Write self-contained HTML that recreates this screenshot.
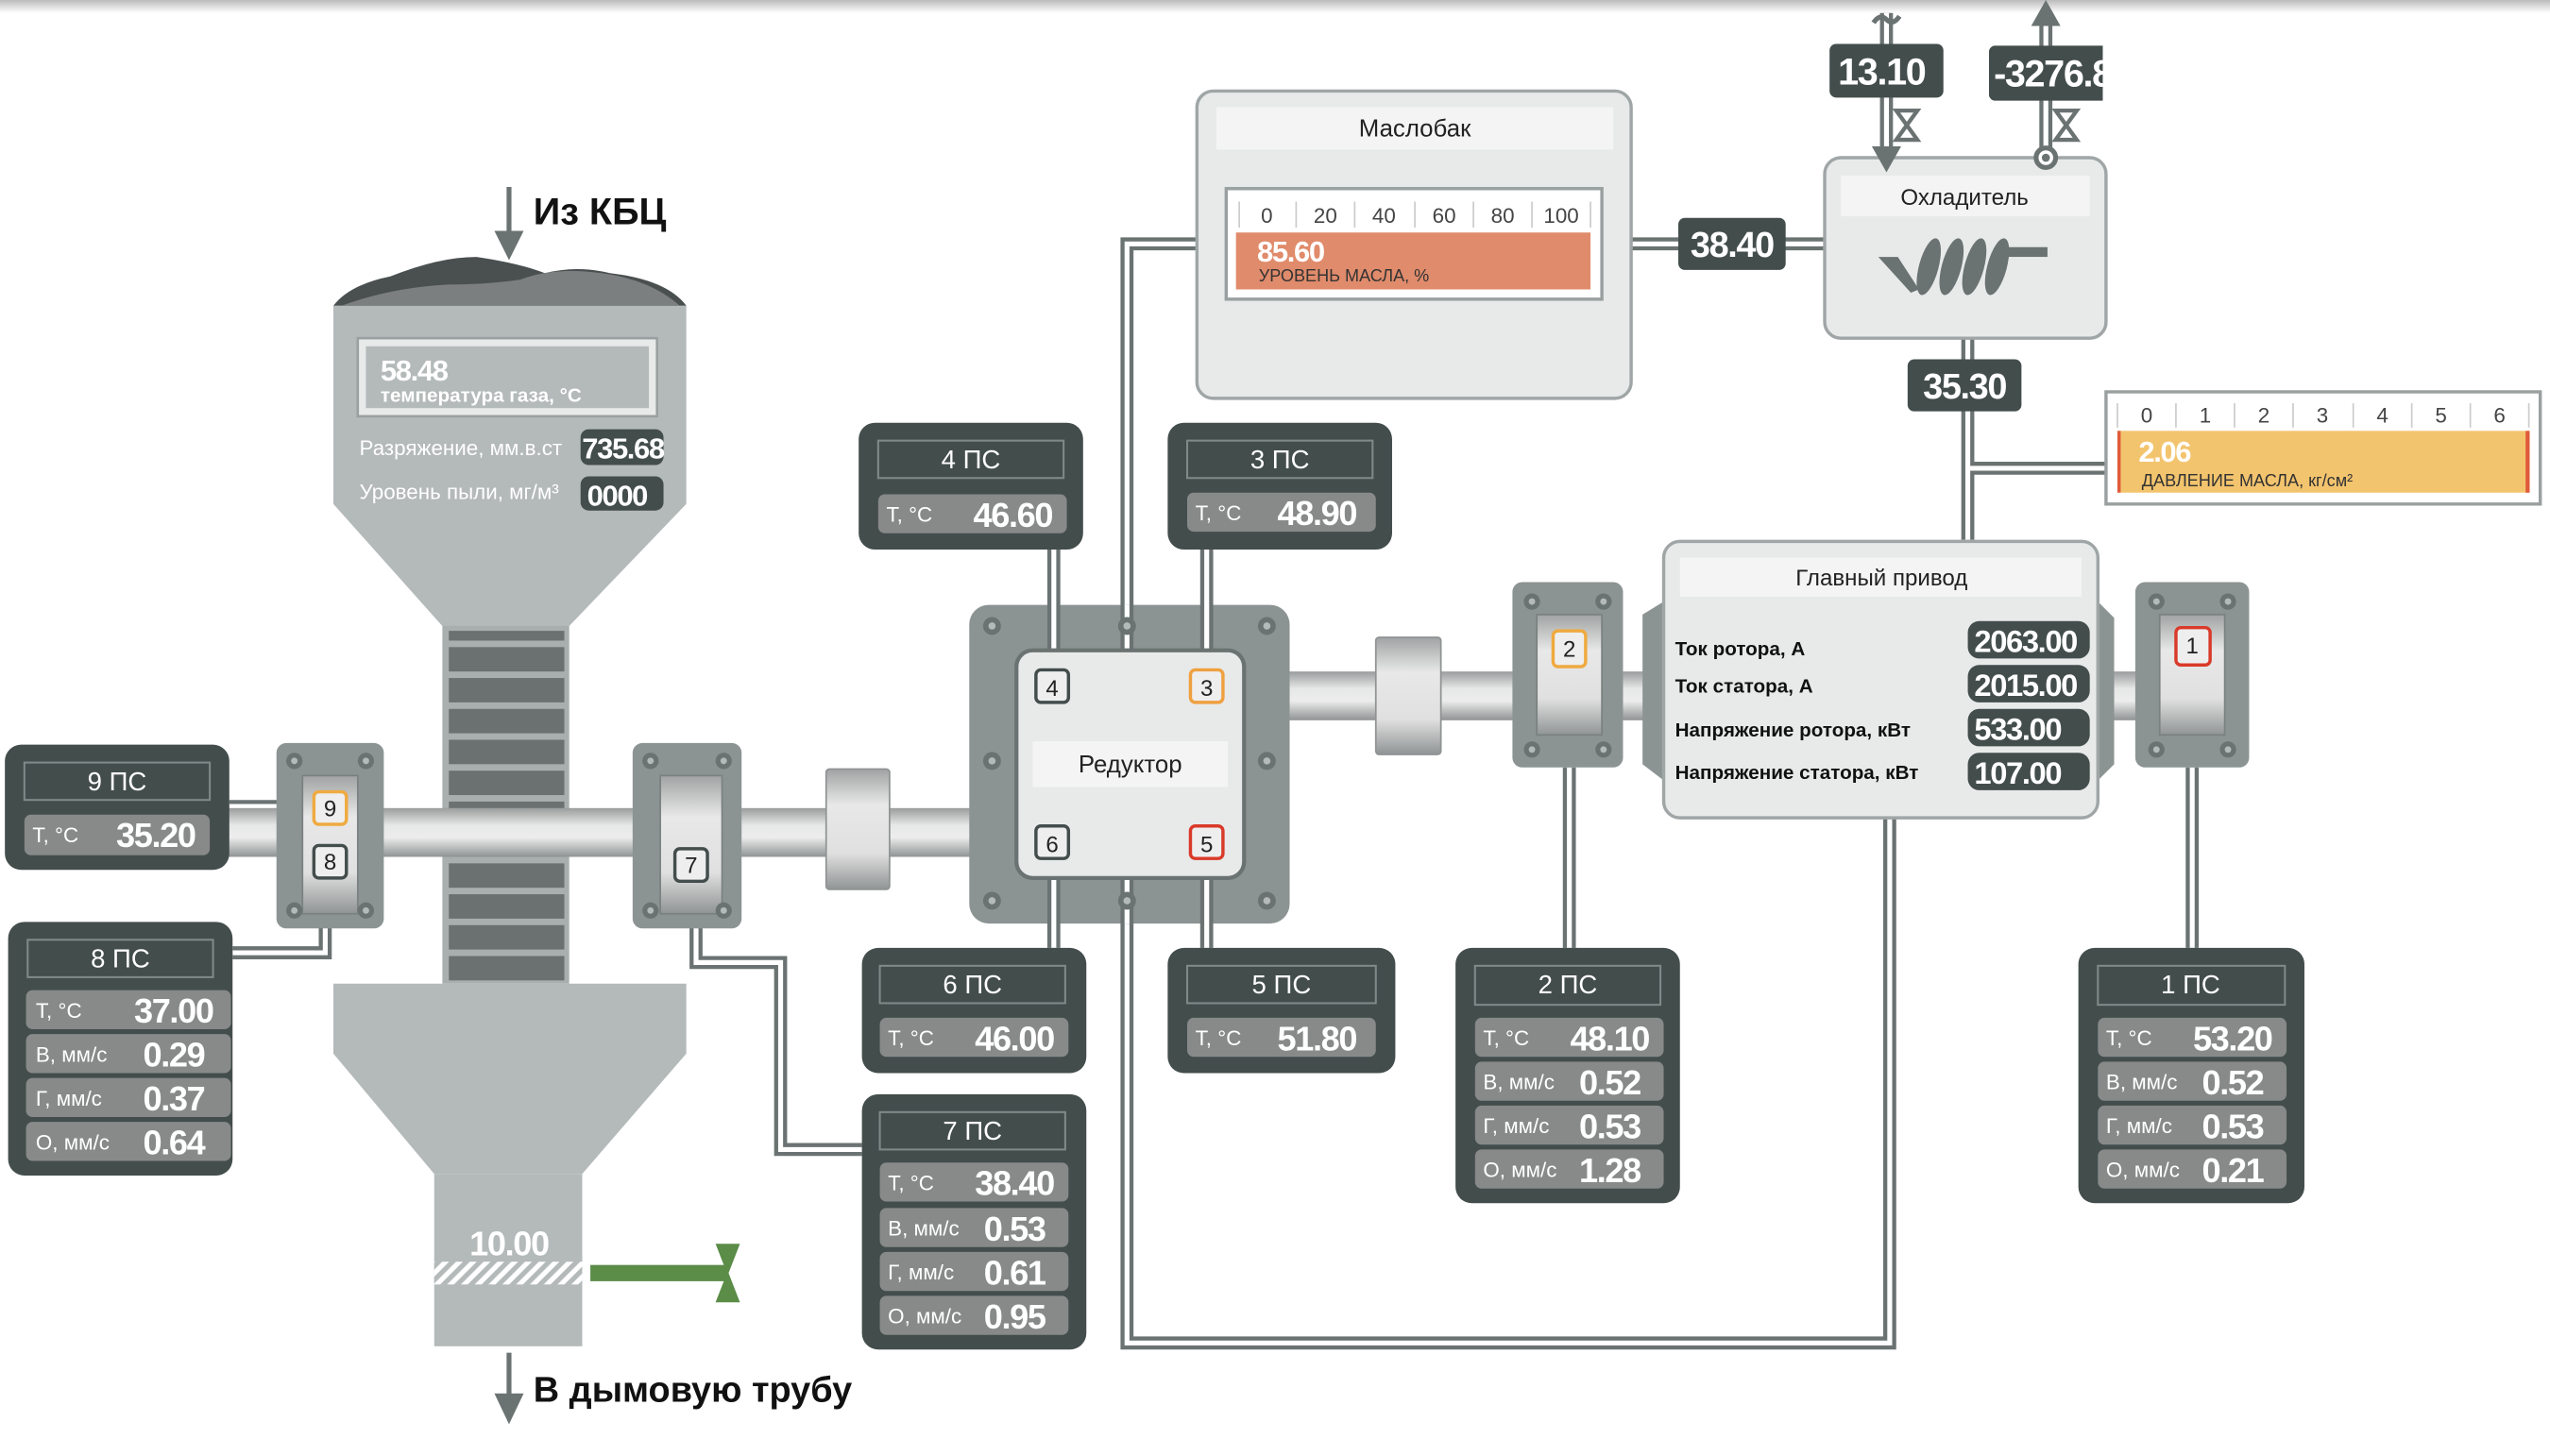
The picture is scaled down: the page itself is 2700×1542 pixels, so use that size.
<!DOCTYPE html>
<html><head><meta charset="utf-8"><style>
html,body{margin:0;padding:0;background:#fff;}
svg{display:block;}
text{font-family:"Liberation Sans",sans-serif;}
.n{font-family:"Liberation Sans Narrow","Liberation Sans",sans-serif;font-weight:bold;fill:#fff;letter-spacing:-0.8px;}
.l{fill:#fff;font-size:13px;}
.t{fill:#fff;font-size:16px;text-anchor:middle;}
.po{fill:none;stroke:#6b7372;stroke-width:8;}
.pi{fill:none;stroke:#fff;stroke-width:3;}
.bd{font-size:14px;text-anchor:middle;fill:#222;}
</style></head><body>
<svg width="2700" height="1542" viewBox="0 0 1568 895.5" preserveAspectRatio="none" xmlns="http://www.w3.org/2000/svg">
<defs>
<linearGradient id="sh" x1="0" y1="0" x2="0" y2="1"><stop offset="0" stop-color="#9a9d9d"/><stop offset="0.35" stop-color="#e6e7e7"/><stop offset="0.6" stop-color="#ededed"/><stop offset="1" stop-color="#8f9393"/></linearGradient>
<linearGradient id="bi" x1="0" y1="0" x2="0" y2="1"><stop offset="0" stop-color="#a0a3a3"/><stop offset="0.3" stop-color="#e8e8e8"/><stop offset="0.7" stop-color="#e0e0e0"/><stop offset="1" stop-color="#909494"/></linearGradient>
<linearGradient id="top" x1="0" y1="0" x2="0" y2="1"><stop offset="0" stop-color="#bbb"/><stop offset="1" stop-color="#fff"/></linearGradient>
<pattern id="hat" width="6" height="6" patternUnits="userSpaceOnUse" patternTransform="rotate(45)"><rect width="6" height="6" fill="#fff"/><rect width="3" height="6" fill="#b4b9b9"/></pattern>
<path id="p1" d="M141 496 H186"/>
<path id="p2" d="M200 562 V586 H143"/>
<path id="p3" d="M428 562 V592 H480 V707 H530"/>
<path id="p4" d="M648 338 V400 M742 338 V400 M648 540 V583 M742 540 V583"/>
<path id="p5" d="M736 150 H693 V826 H1162 V503"/>
<path id="p6" d="M1003 150 H1122"/>
<path id="p7" d="M1210 208 V332 M1210 288 H1295"/>
<path id="p8" d="M1160 8 V92 M1258 10 V92"/>
<path id="p9" d="M965 472 V583 M1348 472 V583"/>
</defs>
<rect x="0" y="0" width="1568" height="8" fill="url(#top)"/>

<g class="po"><use href="#p1"/><use href="#p2"/><use href="#p3"/><use href="#p5"/><use href="#p6"/><use href="#p7"/><use href="#p8"/><use href="#p9"/></g>
<g class="pi"><use href="#p1"/><use href="#p2"/><use href="#p3"/><use href="#p5"/><use href="#p6"/><use href="#p7"/><use href="#p8"/><use href="#p9"/></g>

<!-- Из КБЦ -->
<line x1="313" y1="115" x2="313" y2="148" stroke="#6b7372" stroke-width="3"/>
<polygon points="304,142 322,142 313,160" fill="#6b7372"/>
<text x="328" y="138" font-size="23" font-weight="bold" fill="#111">Из КБЦ</text>

<!-- hopper -->
<polygon points="205,188 205,310 272,385 350,385 422,310 422,188" fill="#b4b9b9"/>
<path d="M205,188 Q215,175 240,170 Q270,158 293,158 Q320,162 335,168 Q355,163 375,168 Q410,172 422,188 Z" fill="#4a4f4f"/>
<path d="M210,188 Q240,177 275,175 Q300,175 320,172 Q340,164 370,168 Q400,172 418,188 Z" fill="#7b7f7f"/>
<rect x="220" y="208" width="184" height="48" fill="#e8eaea" stroke="#9aa0a0" stroke-width="1.5"/>
<rect x="225" y="213" width="174" height="38" fill="#b4b9b9"/>
<text x="234" y="234" class="n" font-size="18">58.48</text>
<text x="234" y="247" font-size="12" font-weight="bold" fill="#fff">температура газа, °C</text>
<text x="221" y="280" class="l" font-size="12.5">Разряжение, мм.в.ст</text>
<rect x="357" y="264" width="51" height="22" rx="5" fill="#434d4c"/>
<text x="383" y="282" class="n" font-size="18" text-anchor="middle">735.68</text>
<text x="221" y="307" class="l" font-size="12.5">Уровень пыли, мг/м³</text>
<rect x="357" y="293" width="51" height="21" rx="5" fill="#434d4c"/>
<text x="361" y="311" class="n" font-size="18">0000</text>

<!-- column -->
<rect x="272" y="385" width="78" height="220" fill="#a9aeae"/>
<g fill="#6a7170">
<rect x="276" y="388" width="71" height="6"/>
<rect x="276" y="398" width="71" height="15"/><rect x="276" y="417" width="71" height="15"/><rect x="276" y="436" width="71" height="15"/><rect x="276" y="455" width="71" height="15"/><rect x="276" y="474" width="71" height="15"/><rect x="276" y="493" width="71" height="15"/><rect x="276" y="512" width="71" height="15"/><rect x="276" y="531" width="71" height="15"/><rect x="276" y="550" width="71" height="15"/><rect x="276" y="569" width="71" height="15"/><rect x="276" y="588" width="71" height="15"/>
</g>
<polygon points="205,605 422,605 422,648 358,722 267,722 205,648" fill="#b4b9b9"/>
<rect x="267" y="722" width="91" height="106" fill="#b4b9b9"/>
<rect x="267" y="776" width="91" height="14" fill="url(#hat)"/>
<text x="313" y="772" class="n" font-size="21" text-anchor="middle">10.00</text>
<rect x="363" y="778" width="85" height="10" fill="#5b8c48"/>
<polygon points="440,765 455,765 448,783 455,801 440,801 447,783" fill="#5b8c48"/>
<line x1="313" y1="832" x2="313" y2="862" stroke="#6b7372" stroke-width="3"/>
<polygon points="304,857 322,857 313,876" fill="#6b7372"/>
<text x="328" y="862" font-size="22" font-weight="bold" fill="#111">В дымовую трубу</text>

<!-- shafts -->
<rect x="140" y="497" width="460" height="30" fill="url(#sh)"/>
<rect x="508" y="473" width="39" height="74" rx="2" fill="url(#bi)" stroke="#8f9393"/>
<rect x="790" y="413" width="240" height="30" fill="url(#sh)"/>
<rect x="846" y="392" width="40" height="72" rx="2" fill="url(#bi)" stroke="#8f9393"/>
<rect x="1290" y="413" width="40" height="30" fill="url(#sh)"/>

<!-- bearing 9/8 -->
<rect x="170" y="457" width="66" height="114" rx="6" fill="#8c9493"/>
<rect x="186" y="477" width="34" height="85" fill="url(#bi)" stroke="#7a8180"/>
<g fill="#6b7372"><circle cx="181" cy="468" r="5"/><circle cx="225" cy="468" r="5"/><circle cx="181" cy="560" r="5"/><circle cx="225" cy="560" r="5"/></g>
<g fill="#b4b9b9"><circle cx="181" cy="468" r="2"/><circle cx="225" cy="468" r="2"/><circle cx="181" cy="560" r="2"/><circle cx="225" cy="560" r="2"/></g>
<rect x="193" y="487" width="20" height="20" rx="3" fill="#eee" stroke="#efaa40" stroke-width="2"/><text x="203" y="502" class="bd">9</text>
<rect x="193" y="520" width="20" height="20" rx="3" fill="#eee" stroke="#434d4c" stroke-width="2"/><text x="203" y="535" class="bd">8</text>

<!-- bearing 7 -->
<rect x="389" y="457" width="67" height="114" rx="6" fill="#8c9493"/>
<rect x="406" y="477" width="38" height="85" fill="url(#bi)" stroke="#7a8180"/>
<g fill="#6b7372"><circle cx="400" cy="468" r="5"/><circle cx="445" cy="468" r="5"/><circle cx="400" cy="560" r="5"/><circle cx="445" cy="560" r="5"/></g>
<g fill="#b4b9b9"><circle cx="400" cy="468" r="2"/><circle cx="445" cy="468" r="2"/><circle cx="400" cy="560" r="2"/><circle cx="445" cy="560" r="2"/></g>
<rect x="415" y="522" width="20" height="20" rx="3" fill="#eee" stroke="#434d4c" stroke-width="2"/><text x="425" y="537" class="bd">7</text>

<!-- reducer -->
<rect x="596" y="372" width="197" height="196" rx="12" fill="#8c9493"/>
<g class="po"><use href="#p4"/><path d="M693 372 V400 M693 540 V568"/></g>
<g class="pi"><use href="#p4"/><path d="M693 372 V400 M693 540 V568"/></g>
<rect x="625" y="400" width="140" height="140" rx="10" fill="#e8eaea" stroke="#6b7372" stroke-width="2.5"/>
<rect x="635" y="456" width="120" height="28" fill="#f4f4f4"/>
<text x="695" y="475" font-size="15" text-anchor="middle" fill="#222">Редуктор</text>
<g fill="#6b7372"><circle cx="610" cy="385" r="5.5"/><circle cx="693" cy="385" r="5.5"/><circle cx="779" cy="385" r="5.5"/><circle cx="610" cy="468" r="5.5"/><circle cx="779" cy="468" r="5.5"/><circle cx="610" cy="554" r="5.5"/><circle cx="693" cy="554" r="5.5"/><circle cx="779" cy="554" r="5.5"/></g>
<g fill="#b4b9b9"><circle cx="610" cy="385" r="2.2"/><circle cx="693" cy="385" r="2.2"/><circle cx="779" cy="385" r="2.2"/><circle cx="610" cy="468" r="2.2"/><circle cx="779" cy="468" r="2.2"/><circle cx="610" cy="554" r="2.2"/><circle cx="693" cy="554" r="2.2"/><circle cx="779" cy="554" r="2.2"/></g>
<rect x="637" y="412" width="20" height="20" rx="3" fill="#eee" stroke="#434d4c" stroke-width="2"/><text x="647" y="428" class="bd">4</text>
<rect x="732" y="412" width="20" height="20" rx="3" fill="#eee" stroke="#efa040" stroke-width="2"/><text x="742" y="428" class="bd">3</text>
<rect x="637" y="508" width="20" height="20" rx="3" fill="#eee" stroke="#434d4c" stroke-width="2"/><text x="647" y="524" class="bd">6</text>
<rect x="732" y="508" width="20" height="20" rx="3" fill="#eee" stroke="#d93a2a" stroke-width="2"/><text x="742" y="524" class="bd">5</text>

<!-- bearing 2 -->
<rect x="930" y="358" width="68" height="114" rx="6" fill="#8c9493"/>
<rect x="945" y="378" width="40" height="74" fill="url(#bi)" stroke="#7a8180"/>
<g fill="#6b7372"><circle cx="942" cy="370" r="5"/><circle cx="986" cy="370" r="5"/><circle cx="942" cy="461" r="5"/><circle cx="986" cy="461" r="5"/></g>
<g fill="#b4b9b9"><circle cx="942" cy="370" r="2"/><circle cx="986" cy="370" r="2"/><circle cx="942" cy="461" r="2"/><circle cx="986" cy="461" r="2"/></g>
<rect x="955" y="388" width="20" height="22" rx="3" fill="#eee" stroke="#efaa40" stroke-width="2"/><text x="965" y="404" class="bd">2</text>

<!-- bearing 1 -->
<rect x="1313" y="358" width="70" height="114" rx="6" fill="#8c9493"/>
<rect x="1328" y="378" width="40" height="74" fill="url(#bi)" stroke="#7a8180"/>
<g fill="#6b7372"><circle cx="1326" cy="370" r="5"/><circle cx="1370" cy="370" r="5"/><circle cx="1326" cy="461" r="5"/><circle cx="1370" cy="461" r="5"/></g>
<g fill="#b4b9b9"><circle cx="1326" cy="370" r="2"/><circle cx="1370" cy="370" r="2"/><circle cx="1326" cy="461" r="2"/><circle cx="1370" cy="461" r="2"/></g>
<rect x="1338" y="386" width="21" height="23" rx="3" fill="#eee" stroke="#d93a2a" stroke-width="2"/><text x="1348" y="402" class="bd">1</text>

<!-- main drive -->
<polygon points="1010,378 1023,370 1023,480 1010,470" fill="#8c9493"/>
<polygon points="1290,370 1300,380 1300,470 1290,480" fill="#8c9493"/>
<rect x="1023" y="333" width="267" height="170" rx="10" fill="#e8eaea" stroke="#a0a6a6" stroke-width="2"/>
<rect x="1033" y="343" width="247" height="24" fill="#f4f4f4"/>
<text x="1157" y="360" font-size="14" text-anchor="middle" fill="#222">Главный привод</text>
<g font-size="12" font-weight="bold" fill="#111">
<text x="1030" y="403">Ток ротора, А</text>
<text x="1030" y="426">Ток статора, А</text>
<text x="1030" y="453">Напряжение ротора, кВт</text>
<text x="1030" y="479">Напряжение статора, кВт</text>
</g>
<g fill="#434d4c"><rect x="1210" y="382" width="75" height="23" rx="7"/><rect x="1210" y="409" width="75" height="23" rx="7"/><rect x="1210" y="436" width="75" height="23" rx="7"/><rect x="1210" y="463" width="75" height="23" rx="7"/></g>
<g class="n" font-size="19"><text x="1214" y="401">2063.00</text><text x="1214" y="428">2015.00</text><text x="1214" y="455">533.00</text><text x="1214" y="482">107.00</text></g>

<!-- Маслобак -->
<rect x="736" y="56" width="267" height="189" rx="10" fill="#e8eaea" stroke="#a0a6a6" stroke-width="2"/>
<rect x="748" y="66" width="244" height="26" fill="#f4f4f4"/>
<text x="870" y="84" font-size="15" text-anchor="middle" fill="#222">Маслобак</text>
<rect x="754" y="116" width="231" height="68" fill="#fff" stroke="#9aa0a0" stroke-width="2"/>
<g font-size="13" fill="#444" text-anchor="middle"><text x="779" y="137">0</text><text x="815" y="137">20</text><text x="851" y="137">40</text><text x="888" y="137">60</text><text x="924" y="137">80</text><text x="960" y="137">100</text></g>
<g stroke="#ccc"><line x1="762" y1="124" x2="762" y2="140"/><line x1="797" y1="124" x2="797" y2="140"/><line x1="833" y1="124" x2="833" y2="140"/><line x1="870" y1="124" x2="870" y2="140"/><line x1="906" y1="124" x2="906" y2="140"/><line x1="942" y1="124" x2="942" y2="140"/><line x1="978" y1="124" x2="978" y2="140"/></g>
<rect x="760" y="143" width="218" height="35" fill="#e08b6b"/>
<text x="773" y="161" class="n" font-size="18">85.60</text>
<text x="774" y="173" font-size="10.5" fill="#333">УРОВЕНЬ МАСЛА, %</text>

<rect x="1032" y="134" width="66" height="32" rx="4" fill="#434d4c"/>
<text x="1065" y="158" class="n" font-size="22" text-anchor="middle">38.40</text>

<!-- cooler -->
<rect x="1122" y="97" width="173" height="111" rx="10" fill="#e8eaea" stroke="#a0a6a6" stroke-width="2"/>
<rect x="1132" y="108" width="153" height="25" fill="#f4f4f4"/>
<text x="1208" y="126" font-size="14" text-anchor="middle" fill="#222">Охладитель</text>
<g fill="#6b7372">
<polygon points="1155,158 1167,158 1180,178 1175,180"/>
<rect x="1235" y="152" width="24" height="6"/>
<ellipse cx="1186" cy="164" rx="6" ry="18" transform="rotate(15 1186 164)"/>
<ellipse cx="1200" cy="164" rx="6" ry="18" transform="rotate(15 1200 164)"/>
<ellipse cx="1214" cy="164" rx="6" ry="18" transform="rotate(15 1214 164)"/>
<ellipse cx="1228" cy="164" rx="6" ry="18" transform="rotate(15 1228 164)"/>
</g>
<path d="M1152 14 Q1156 8 1160 12 Q1164 16 1168 10" stroke="#6b7372" stroke-width="3" fill="none"/>
<polygon points="1151,90 1169,90 1160,106" fill="#6b7372"/>
<polygon points="1249,16 1267,16 1258,0" fill="#6b7372"/>
<circle cx="1258" cy="97" r="6" fill="#fff" stroke="#6b7372" stroke-width="3"/>
<circle cx="1258" cy="97" r="2.5" fill="#6b7372"/>
<g fill="none" stroke="#6b7372" stroke-width="2.5"><path d="M1166 68 H1179 L1166 86 H1179 Z"/><path d="M1264 68 H1277 L1264 86 H1277 Z"/></g>
<rect x="1125" y="27" width="70" height="33" rx="4" fill="#434d4c"/>
<text x="1157" y="52" class="n" font-size="23" text-anchor="middle">13.10</text>
<svg x="1223" y="28" width="70" height="34" overflow="hidden"><rect x="0" y="0" width="75" height="34" rx="4" fill="#434d4c"/><text x="3" y="25" class="n" font-size="23">-3276.8</text></svg>

<rect x="1173" y="221" width="70" height="32" rx="4" fill="#434d4c"/>
<text x="1208" y="245" class="n" font-size="22" text-anchor="middle">35.30</text>

<!-- pressure gauge -->
<rect x="1295" y="241" width="267" height="69" fill="#fff" stroke="#9aa0a0" stroke-width="2"/>
<g font-size="13" fill="#444" text-anchor="middle"><text x="1320" y="260">0</text><text x="1356" y="260">1</text><text x="1392" y="260">2</text><text x="1428" y="260">3</text><text x="1465" y="260">4</text><text x="1501" y="260">5</text><text x="1537" y="260">6</text></g>
<g stroke="#ccc"><line x1="1302" y1="248" x2="1302" y2="263"/><line x1="1338" y1="248" x2="1338" y2="263"/><line x1="1374" y1="248" x2="1374" y2="263"/><line x1="1410" y1="248" x2="1410" y2="263"/><line x1="1447" y1="248" x2="1447" y2="263"/><line x1="1483" y1="248" x2="1483" y2="263"/><line x1="1519" y1="248" x2="1519" y2="263"/><line x1="1555" y1="248" x2="1555" y2="263"/></g>
<rect x="1302" y="265" width="253" height="38" fill="#f3c46e"/>
<rect x="1302" y="265" width="2" height="38" fill="#e05a3a"/><rect x="1553" y="265" width="2.5" height="38" fill="#e05a3a"/>
<text x="1315" y="284" class="n" font-size="18">2.06</text>
<text x="1317" y="299" font-size="10.5" fill="#333">ДАВЛЕНИЕ МАСЛА, кг/см²</text>

<!-- panels -->
<g>
<rect x="3" y="458" width="138" height="77" rx="10" fill="#434d4c"/>
<rect x="15" y="469" width="114" height="23" fill="none" stroke="#7f8988" stroke-width="1.2"/><text x="72" y="486" class="t">9 ПС</text>
<rect x="15" y="501" width="114" height="25" rx="4" fill="#878a89"/><text x="20" y="518" class="l">T, °C</text><text x="120" y="521" class="n" font-size="21" text-anchor="end">35.20</text>

<rect x="5" y="567" width="138" height="156" rx="10" fill="#434d4c"/>
<rect x="17" y="578" width="114" height="23" fill="none" stroke="#7f8988" stroke-width="1.2"/><text x="74" y="595" class="t">8 ПС</text>
<rect x="16" y="609" width="126" height="24" rx="4" fill="#878a89"/><text x="22" y="626" class="l">T, °C</text><text x="131" y="629" class="n" font-size="21" text-anchor="end">37.00</text>
<rect x="16" y="636" width="126" height="24" rx="4" fill="#878a89"/><text x="22" y="653" class="l">B, мм/с</text><text x="88" y="656" class="n" font-size="21">0.29</text>
<rect x="16" y="663" width="126" height="24" rx="4" fill="#878a89"/><text x="22" y="680" class="l">Г, мм/с</text><text x="88" y="683" class="n" font-size="21">0.37</text>
<rect x="16" y="690" width="126" height="24" rx="4" fill="#878a89"/><text x="22" y="707" class="l">O, мм/с</text><text x="88" y="710" class="n" font-size="21">0.64</text>

<rect x="528" y="260" width="138" height="78" rx="10" fill="#434d4c"/>
<rect x="540" y="271" width="114" height="23" fill="none" stroke="#7f8988" stroke-width="1.2"/><text x="597" y="288" class="t">4 ПС</text>
<rect x="540" y="304" width="116" height="24" rx="4" fill="#878a89"/><text x="545" y="321" class="l">T, °C</text><text x="647" y="324" class="n" font-size="21" text-anchor="end">46.60</text>

<rect x="718" y="260" width="138" height="78" rx="10" fill="#434d4c"/>
<rect x="730" y="271" width="114" height="23" fill="none" stroke="#7f8988" stroke-width="1.2"/><text x="787" y="288" class="t">3 ПС</text>
<rect x="730" y="303" width="116" height="24" rx="4" fill="#878a89"/><text x="735" y="320" class="l">T, °C</text><text x="834" y="323" class="n" font-size="21" text-anchor="end">48.90</text>

<rect x="530" y="583" width="138" height="77" rx="10" fill="#434d4c"/>
<rect x="541" y="594" width="114" height="23" fill="none" stroke="#7f8988" stroke-width="1.2"/><text x="598" y="611" class="t">6 ПС</text>
<rect x="541" y="626" width="116" height="24" rx="4" fill="#878a89"/><text x="546" y="643" class="l">T, °C</text><text x="648" y="646" class="n" font-size="21" text-anchor="end">46.00</text>

<rect x="718" y="583" width="140" height="77" rx="10" fill="#434d4c"/>
<rect x="730" y="594" width="116" height="23" fill="none" stroke="#7f8988" stroke-width="1.2"/><text x="788" y="611" class="t">5 ПС</text>
<rect x="730" y="626" width="116" height="24" rx="4" fill="#878a89"/><text x="735" y="643" class="l">T, °C</text><text x="834" y="646" class="n" font-size="21" text-anchor="end">51.80</text>

<rect x="530" y="673" width="138" height="157" rx="10" fill="#434d4c"/>
<rect x="541" y="684" width="114" height="23" fill="none" stroke="#7f8988" stroke-width="1.2"/><text x="598" y="701" class="t">7 ПС</text>
<rect x="541" y="715" width="116" height="24" rx="4" fill="#878a89"/><text x="546" y="732" class="l">T, °C</text><text x="648" y="735" class="n" font-size="21" text-anchor="end">38.40</text>
<rect x="541" y="743" width="116" height="24" rx="4" fill="#878a89"/><text x="546" y="760" class="l">B, мм/с</text><text x="605" y="763" class="n" font-size="21">0.53</text>
<rect x="541" y="770" width="116" height="24" rx="4" fill="#878a89"/><text x="546" y="787" class="l">Г, мм/с</text><text x="605" y="790" class="n" font-size="21">0.61</text>
<rect x="541" y="797" width="116" height="24" rx="4" fill="#878a89"/><text x="546" y="814" class="l">O, мм/с</text><text x="605" y="817" class="n" font-size="21">0.95</text>

<rect x="895" y="583" width="138" height="157" rx="10" fill="#434d4c"/>
<rect x="907" y="594" width="114" height="24" fill="none" stroke="#7f8988" stroke-width="1.2"/><text x="964" y="611" class="t">2 ПС</text>
<rect x="907" y="626" width="116" height="24" rx="4" fill="#878a89"/><text x="912" y="643" class="l">T, °C</text><text x="1014" y="646" class="n" font-size="21" text-anchor="end">48.10</text>
<rect x="907" y="653" width="116" height="24" rx="4" fill="#878a89"/><text x="912" y="670" class="l">B, мм/с</text><text x="971" y="673" class="n" font-size="21">0.52</text>
<rect x="907" y="680" width="116" height="24" rx="4" fill="#878a89"/><text x="912" y="697" class="l">Г, мм/с</text><text x="971" y="700" class="n" font-size="21">0.53</text>
<rect x="907" y="707" width="116" height="24" rx="4" fill="#878a89"/><text x="912" y="724" class="l">O, мм/с</text><text x="971" y="727" class="n" font-size="21">1.28</text>

<rect x="1278" y="583" width="139" height="157" rx="10" fill="#434d4c"/>
<rect x="1290" y="594" width="115" height="24" fill="none" stroke="#7f8988" stroke-width="1.2"/><text x="1347" y="611" class="t">1 ПС</text>
<rect x="1290" y="626" width="116" height="24" rx="4" fill="#878a89"/><text x="1295" y="643" class="l">T, °C</text><text x="1397" y="646" class="n" font-size="21" text-anchor="end">53.20</text>
<rect x="1290" y="653" width="116" height="24" rx="4" fill="#878a89"/><text x="1295" y="670" class="l">B, мм/с</text><text x="1354" y="673" class="n" font-size="21">0.52</text>
<rect x="1290" y="680" width="116" height="24" rx="4" fill="#878a89"/><text x="1295" y="697" class="l">Г, мм/с</text><text x="1354" y="700" class="n" font-size="21">0.53</text>
<rect x="1290" y="707" width="116" height="24" rx="4" fill="#878a89"/><text x="1295" y="724" class="l">O, мм/с</text><text x="1354" y="727" class="n" font-size="21">0.21</text>
</g>
</svg>
</body></html>
